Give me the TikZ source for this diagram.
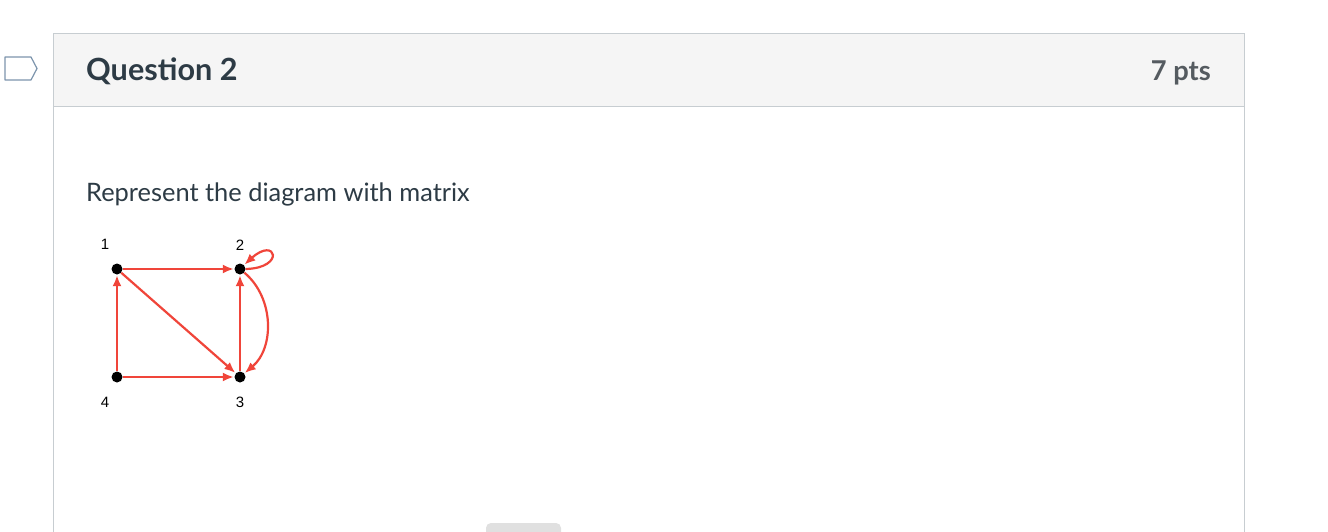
\documentclass[tikz,border=0pt]{standalone}
\usepackage{fontspec}
\setmainfont{Lato}
\newfontfamily\arialfont{Liberation Sans}
\usepackage{tikz}
\usetikzlibrary{positioning, arrows.meta, shapes.geometric}
\definecolor{edgered}{HTML}{F0453A}
\definecolor{headfill}{HTML}{F5F5F5}
\definecolor{boxline}{HTML}{C7CDD1}
\definecolor{inktext}{HTML}{2D3B45}
\definecolor{ptsgray}{HTML}{555B60}
\definecolor{flagline}{HTML}{7D95AD}
\tikzset{vert/.style={circle, fill=black, inner sep=0pt, minimum size=11pt}}
\tikzset{vlabel/.style={font=\arialfont\fontsize{15}{15}\selectfont, inner sep=0pt}}
\tikzset{arc/.style={draw=edgered, line width=2.2pt, -{Latex[length=11pt, width=9pt]}, shorten >=0.5pt}}
\begin{document}
\begin{tikzpicture}[x=1pt, y=-1pt]
	\useasboundingbox (0,0) rectangle (1328,532);
	% question card
	\fill[white] (0,0) rectangle (1328,532);
	\draw[boxline, fill=headfill] (53,33) rectangle (1244,106);
	\draw[boxline] (53,106) -- (53,533);
	\draw[boxline] (1244,106) -- (1244,533);
	\draw[flagline, line width=1.2pt, line join=round]
		(5,57) -- (31,57) -- (37,68.5) -- (31,80) -- (5,80) -- cycle;
	\node[anchor=base west, inner sep=0pt, text=inktext,
		font=\fontsize{30.6}{30.6}\bfseries\selectfont] (qtitle) at (86,81) {Question 2};
	\node[anchor=base east, inner sep=0pt, text=ptsgray,
		font=\fontsize{27.3}{27.3}\bfseries\selectfont] (qpts) at (1211,81) {7 pts};
	\node[anchor=base west, inner sep=0pt, text=inktext,
		font=\fontsize{25.4}{25.4}\selectfont] (qtext) at (86,201) {Represent the diagram with matrix};
	\fill[black!12, rounded corners=5pt] (486,523) rectangle (561,540);
	% graph
	\node[vert] (v1) at (117,269) {};
	\node[vert] (v2) at (240,269) {};
	\node[vert] (v3) at (240,377) {};
	\node[vert] (v4) at (117,377) {};
	\node[vlabel] (l1) at (105,244) {1};
	\node[vlabel] (l2) at (240,245) {2};
	\node[vlabel] (l3) at (240,402) {3};
	\node[vlabel] (l4) at (105,402) {4};
	%
	\draw[arc] (v1) -- (v2);
	\draw[arc] (v4) -- (v1);
	\draw[arc] (v4) -- (v3);
	\draw[arc] (v3) -- (v2);
	\draw[arc] (v1) -- (v3);
	\draw[arc] (v2) to[bend left=50] (v3);
	\draw[arc] (v2.east) .. controls (286,268) and (276,236) .. (v2.north east);
\end{tikzpicture}
\end{document}
